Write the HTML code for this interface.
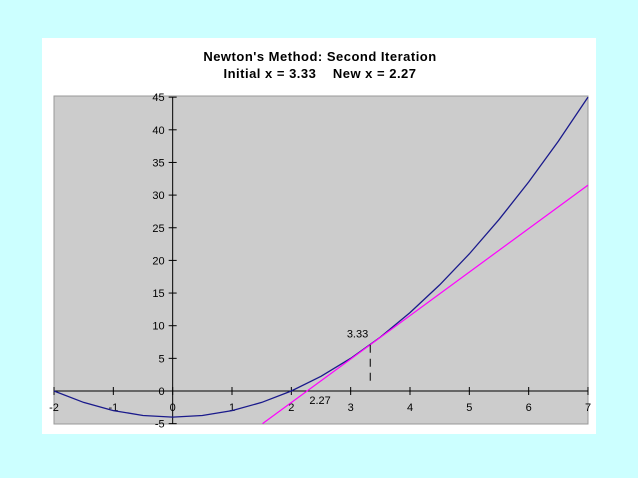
<!DOCTYPE html>
<html><head><meta charset="utf-8"><style>
body{margin:0;background:#ccffff;}
svg{display:block;font-family:"Liberation Sans",sans-serif;}
</style></head><body>
<svg width="638" height="478">
<rect x="0" y="0" width="638" height="478" fill="#ccffff"/>
<rect x="42" y="38" width="554" height="396" fill="#ffffff"/>
<text x="320" y="61" text-anchor="middle" font-size="13" font-weight="bold" letter-spacing="0.5">Newton's Method: Second Iteration</text>
<text x="320" y="78" text-anchor="middle" font-size="13" font-weight="bold" letter-spacing="0.5">Initial x = 3.33 &#160;&#160;&#160;New x = 2.27</text>
<rect x="54" y="96" width="534" height="328" fill="#cccccc" stroke="#999" stroke-width="1"/>
<g id="axes"></g>
<g id="marks"></g>
</svg>
<script>
const xTicks=[-2,-1,0,1,2,3,4,5,6,7];
const yTicks=[-5,0,5,10,15,20,25,30,35,40,45];
const x0=3.33, xNew=2.27;
const curveXs=[-2,-1.5,-1,-0.5,0,0.5,1,1.5,2,2.5,3,3.5,4,4.5,5,5.5,6,6.5,7];
const curveYs=[0,-1.75,-3,-3.75,-4,-3.75,-3,-1.75,0,2.25,5,8.25,12,16.25,21,26.25,32,38.25,45];
const tangentSlope=6.66, tangentY0=7.09;
const NS="http://www.w3.org/2000/svg";
const X=v=>54+(v+2)*(534/9);
const Y=v=>391-v*6.53;
function mk(t,a,p){const e=document.createElementNS(NS,t);for(const k in a)e.setAttribute(k,a[k]);(p||document.getElementById('marks')).appendChild(e);return e;}
const ax=document.getElementById('axes');
let e=mk('line',{x1:X(-2),x2:X(7),y1:Y(0),y2:Y(0),stroke:'#000'},ax);


e=mk('line',{x1:X(0),x2:X(0),y1:Y(45),y2:Y(-5),stroke:'#000'},ax);


xTicks.forEach(v=>{
 let t=mk('line',{x1:X(v),x2:X(v),y1:Y(0)-4,y2:Y(0)+4,stroke:'#000'},ax);
 
 
 let l=mk('text',{x:X(v),y:Y(0)+20,'text-anchor':'middle','font-size':'11'},ax);l.textContent=v;
 
 
});
yTicks.forEach(v=>{
 let t=mk('line',{x1:X(0)-4,x2:X(0)+4,y1:Y(v),y2:Y(v),stroke:'#000'},ax);
 
 
 let l=mk('text',{x:X(0)-8,y:Y(v)+4,'text-anchor':'end','font-size':'11'},ax);l.textContent=v;
 
 
});
let pts=curveXs.map((x,i)=>X(x)+','+Y(curveYs[i])).join(' ');
e=mk('polyline',{points:pts,fill:'none',stroke:'#1a1a8c','stroke-width':1.3});


const f0=tangentY0;
const tx1=x0+(-5-f0)/tangentSlope, tx2=7;
e=mk('line',{x1:X(tx1),y1:Y(-5),x2:X(tx2),y2:Y(f0+tangentSlope*(tx2-x0)),stroke:'#ff00ff','stroke-width':1.2});


e=mk('line',{x1:X(x0),x2:X(x0),y1:Y(f0)+0,y2:Y(0)-9,stroke:'#000','stroke-dasharray':'8,6'});


e=mk('text',{x:X(x0)-2,y:Y(f0)-7,'text-anchor':'end','font-size':'11'});e.textContent=x0.toFixed(2);


e=mk('text',{x:X(xNew)+2,y:Y(0)+13,'font-size':'11'});e.textContent=xNew.toFixed(2);


</script>
</body></html>
